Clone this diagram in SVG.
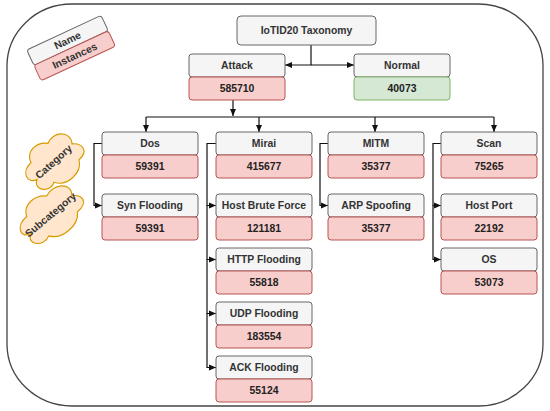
<svg xmlns="http://www.w3.org/2000/svg" width="550" height="411" viewBox="0 0 550 411">
<defs>
<style>
.g{fill:#f5f5f5;stroke:#666;stroke-width:1}
.p{fill:#f8cecc;stroke:#b85450;stroke-width:1}
.gr{fill:#d5e8d4;stroke:#82b366;stroke-width:1}
.cl{fill:#ffe6cc;stroke:#d79b00;stroke-width:0.8}
text{font-family:"Liberation Sans",Arial,sans-serif;font-weight:bold;font-size:10.4px;text-anchor:middle;dominant-baseline:central}
.n{fill:#333}
.v{fill:#222}
.c path{fill:none;stroke:#111;stroke-width:1.2}
</style>
<marker id="a" markerUnits="userSpaceOnUse" markerWidth="8" markerHeight="7" refX="7" refY="3.5" orient="auto">
<path d="M0,0.5 L7,3.5 L0,6.5 Z" fill="#111"/>
</marker>
</defs>
<rect width="550" height="411" fill="#fff"/>
<rect x="7" y="4" width="536" height="402" rx="65" ry="62" fill="#fff" stroke="#444" stroke-width="1.3"/>

<g id="legend" transform="translate(67.5,40.4) rotate(-25)">
<rect class="g" x="-41" y="-8.5" width="82" height="17" rx="3"/>
<text class="n" x="0" y="0" font-size="10px">Name</text>
<rect class="p" x="-41" y="8.5" width="82" height="17" rx="3"/>
<text class="n" x="0" y="17" font-size="10px">Instances</text>
</g>

<g id="cloud-category" transform="translate(53,161) rotate(-42)">
<path class="cl" d="M-13,-9 C-23,-9 -26,0 -18,2 C-26,6 -17,15 -10,11 C-5,19 10,19 15,11 C25,11 25,4 19,0 C25,-7 15,-15 6,-11 C0,-17 -10,-17 -13,-9 Z" transform="scale(1.35,1.5)"/>
<text class="n" x="0" y="1" font-size="10px">Category</text>
</g>

<g id="cloud-subcategory" transform="translate(50,214) rotate(-40)">
<path class="cl" d="M-13,-9 C-23,-9 -26,0 -18,2 C-26,6 -17,15 -10,11 C-5,19 10,19 15,11 C25,11 25,4 19,0 C25,-7 15,-15 6,-11 C0,-17 -10,-17 -13,-9 Z" transform="scale(1.5,1.45)"/>
<text class="n" x="0" y="1" font-size="10px">Subcategory</text>
</g>

<g class="c" id="connectors">
<path d="M311,45 V65 H285" marker-end="url(#a)"/>
<path d="M311,65 H354" marker-end="url(#a)"/>
<path d="M233,100 V116" marker-end="url(#a)"/>
<path d="M146,117 H494"/>
<path d="M146,117 V132" marker-end="url(#a)"/>
<path d="M259,117 V132" marker-end="url(#a)"/>
<path d="M375,117 V132" marker-end="url(#a)"/>
<path d="M494,117 V132" marker-end="url(#a)"/>
<path d="M102,143.5 H94 V205.5 H102" marker-end="url(#a)"/>
<path d="M216,143.5 H207 V205.5 H216" marker-end="url(#a)"/>
<path d="M207,205.5 V259.5 H216" marker-end="url(#a)"/>
<path d="M207,259.5 V313.5 H216" marker-end="url(#a)"/>
<path d="M207,313.5 V367.5 H216" marker-end="url(#a)"/>
<path d="M328,143.5 H320 V205.5 H328" marker-end="url(#a)"/>
<path d="M441,143.5 H433 V205.5 H441" marker-end="url(#a)"/>
<path d="M433,205.5 V259.5 H441" marker-end="url(#a)"/>
</g>

<g id="taxonomy">
<rect class="g" x="237" y="16" width="139" height="29" rx="4"/>
<text class="n" x="306.5" y="30.5">IoTID20 Taxonomy</text>
</g>

<g id="attack">
<rect class="g" x="189" y="54" width="96" height="23" rx="3"/>
<text class="n" x="237" y="65.5">Attack</text>
<rect class="p" x="189" y="77" width="96" height="23" rx="3"/>
<text class="v" x="237" y="88.5">585710</text>
</g>

<g id="normal">
<rect class="g" x="354" y="54" width="96" height="23" rx="3"/>
<text class="n" x="402" y="65.5">Normal</text>
<rect class="gr" x="354" y="77" width="96" height="23" rx="3"/>
<text class="v" x="402" y="88.5">40073</text>
</g>

<g id="dos">
<rect class="g" x="102" y="132" width="96" height="23" rx="3"/>
<text class="n" x="150" y="143.5">Dos</text>
<rect class="p" x="102" y="155" width="96" height="23" rx="3"/>
<text class="v" x="150" y="166.5">59391</text>
</g>

<g id="mirai">
<rect class="g" x="216" y="132" width="96" height="23" rx="3"/>
<text class="n" x="264" y="143.5">Mirai</text>
<rect class="p" x="216" y="155" width="96" height="23" rx="3"/>
<text class="v" x="264" y="166.5">415677</text>
</g>

<g id="mitm">
<rect class="g" x="328" y="132" width="96" height="23" rx="3"/>
<text class="n" x="376" y="143.5">MITM</text>
<rect class="p" x="328" y="155" width="96" height="23" rx="3"/>
<text class="v" x="376" y="166.5">35377</text>
</g>

<g id="scan">
<rect class="g" x="441" y="132" width="96" height="23" rx="3"/>
<text class="n" x="489" y="143.5">Scan</text>
<rect class="p" x="441" y="155" width="96" height="23" rx="3"/>
<text class="v" x="489" y="166.5">75265</text>
</g>

<g id="syn-flooding">
<rect class="g" x="102" y="194" width="96" height="23" rx="3"/>
<text class="n" x="150" y="205.5">Syn Flooding</text>
<rect class="p" x="102" y="217" width="96" height="23" rx="3"/>
<text class="v" x="150" y="228.5">59391</text>
</g>

<g id="host-brute-force">
<rect class="g" x="216" y="194" width="96" height="23" rx="3"/>
<text class="n" x="264" y="205.5">Host Brute Force</text>
<rect class="p" x="216" y="217" width="96" height="23" rx="3"/>
<text class="v" x="264" y="228.5">121181</text>
</g>

<g id="http-flooding">
<rect class="g" x="216" y="248" width="96" height="23" rx="3"/>
<text class="n" x="264" y="259.5">HTTP Flooding</text>
<rect class="p" x="216" y="271" width="96" height="23" rx="3"/>
<text class="v" x="264" y="282.5">55818</text>
</g>

<g id="udp-flooding">
<rect class="g" x="216" y="302" width="96" height="23" rx="3"/>
<text class="n" x="264" y="313.5">UDP Flooding</text>
<rect class="p" x="216" y="325" width="96" height="23" rx="3"/>
<text class="v" x="264" y="336.5">183554</text>
</g>

<g id="ack-flooding">
<rect class="g" x="216" y="356" width="96" height="23" rx="3"/>
<text class="n" x="264" y="367.5">ACK Flooding</text>
<rect class="p" x="216" y="379" width="96" height="23" rx="3"/>
<text class="v" x="264" y="390.5">55124</text>
</g>

<g id="arp-spoofing">
<rect class="g" x="328" y="194" width="96" height="23" rx="3"/>
<text class="n" x="376" y="205.5">ARP Spoofing</text>
<rect class="p" x="328" y="217" width="96" height="23" rx="3"/>
<text class="v" x="376" y="228.5">35377</text>
</g>

<g id="host-port">
<rect class="g" x="441" y="194" width="96" height="23" rx="3"/>
<text class="n" x="489" y="205.5">Host Port</text>
<rect class="p" x="441" y="217" width="96" height="23" rx="3"/>
<text class="v" x="489" y="228.5">22192</text>
</g>

<g id="os">
<rect class="g" x="441" y="248" width="96" height="23" rx="3"/>
<text class="n" x="489" y="259.5">OS</text>
<rect class="p" x="441" y="271" width="96" height="23" rx="3"/>
<text class="v" x="489" y="282.5">53073</text>
</g>
</svg>
